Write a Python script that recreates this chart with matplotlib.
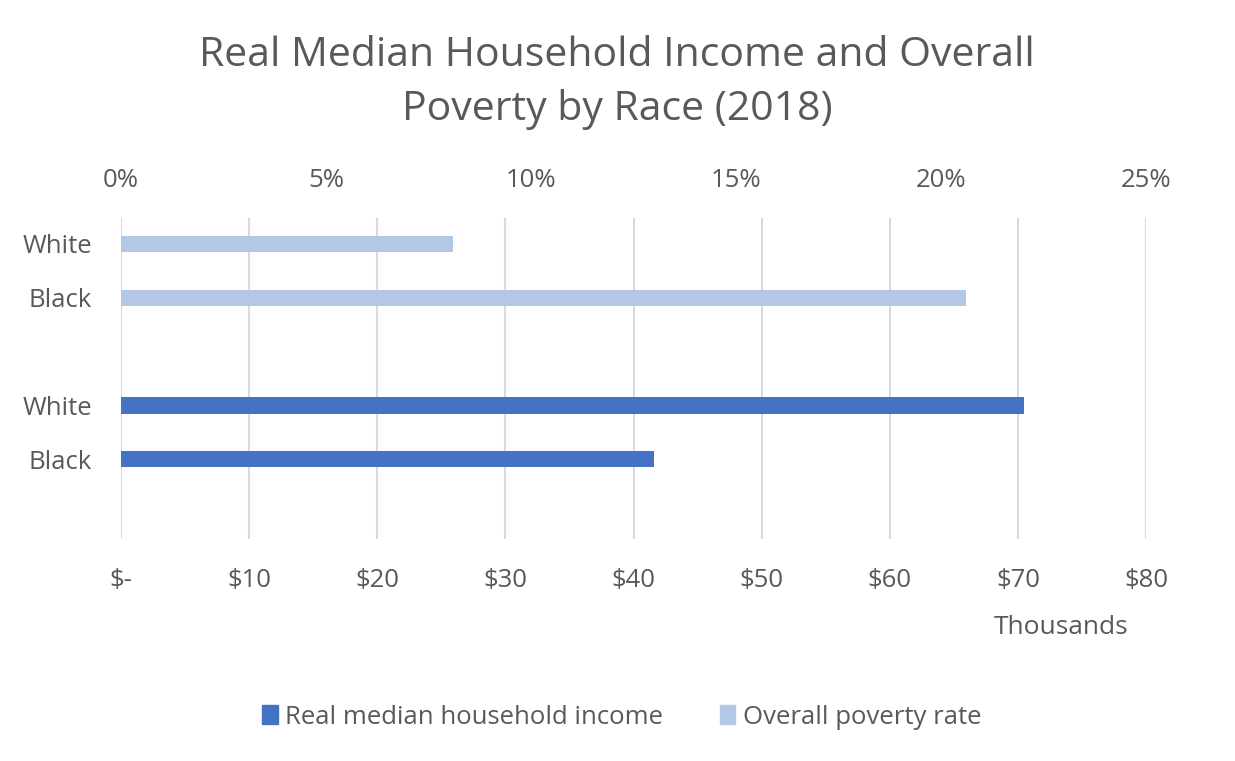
import matplotlib
matplotlib.use("Agg")
import matplotlib.pyplot as plt
from matplotlib.patches import Patch

# data
groups = ["White", "Black"]
income_k = [70.5, 41.6]      # real median household income, $ thousands
poverty_pct = [8.1, 20.6]    # overall poverty rate, %

income_ticks = [0, 10, 20, 30, 40, 50, 60, 70, 80]
income_labels = ["$-", "$10", "$20", "$30", "$40", "$50", "$60", "$70", "$80"]
poverty_ticks = [0, 5, 10, 15, 20, 25]
poverty_labels = ["0%", "5%", "10%", "15%", "20%", "25%"]

TEXT = "#595959"
INCOME_C = "#4472C4"
POVERTY_C = "#B4C7E7"
GRID = "#d9d9d9"
FS = 18.5

plt.rcParams["font.family"] = ["Open Sans", "DejaVu Sans"]

fig = plt.figure(figsize=(12.35, 7.61), dpi=100)
ax = fig.add_axes([121 / 1235, 1 - 539 / 761, (1146 - 121) / 1235, (539 - 218) / 761])
ax2 = ax.twiny()

pov_pos = [0, 1]
inc_pos = [3, 4]
bar_h = 0.3

ax.barh(inc_pos, income_k, height=bar_h, color=INCOME_C, zorder=3)
ax2.barh(pov_pos, poverty_pct, height=bar_h, color=POVERTY_C, zorder=3)

ax.set_xlim(0, 80)
ax2.set_xlim(0, 25)
ax.set_ylim(5.48, -0.48)

ax.set_xticks(income_ticks)
ax.set_xticklabels(income_labels)
ax2.set_xticks(poverty_ticks)
ax2.set_xticklabels(poverty_labels)
ax.set_yticks(pov_pos + inc_pos)
ax.set_yticklabels(groups + groups)

for a in (ax, ax2):
    for s in a.spines.values():
        s.set_visible(False)
    a.tick_params(length=0, colors=TEXT, labelsize=FS)
ax.tick_params(axis="x", pad=21)
ax2.tick_params(axis="x", pad=18)
ax.tick_params(axis="y", pad=21)

ax.grid(axis="x", color=GRID, linewidth=1.5, zorder=0)
ax.set_axisbelow(True)

fig.text(1061 / 1235, 1 - 627 / 761, "Thousands", color=TEXT, fontsize=FS + 0.5,
         ha="center", va="center")

fig.text(617 / 1235, 1 - 83 / 761,
         "Real Median Household Income and Overall\nPoverty by Race (2018)",
         color=TEXT, fontsize=29.5, ha="center", va="center", linespacing=1.42)

handles = [Patch(color=INCOME_C, label="Real median household income"),
           Patch(color=POVERTY_C, label="Overall poverty rate")]
leg = fig.legend(handles=handles, loc="center", bbox_to_anchor=(622 / 1235, 1 - 717 / 761),
                 ncol=2, frameon=False, fontsize=FS, handlelength=0.6, handleheight=0.8,
                 handletextpad=0.3, columnspacing=2.2)
for t in leg.get_texts():
    t.set_color(TEXT)

fig.savefig("out.png", dpi=100)
